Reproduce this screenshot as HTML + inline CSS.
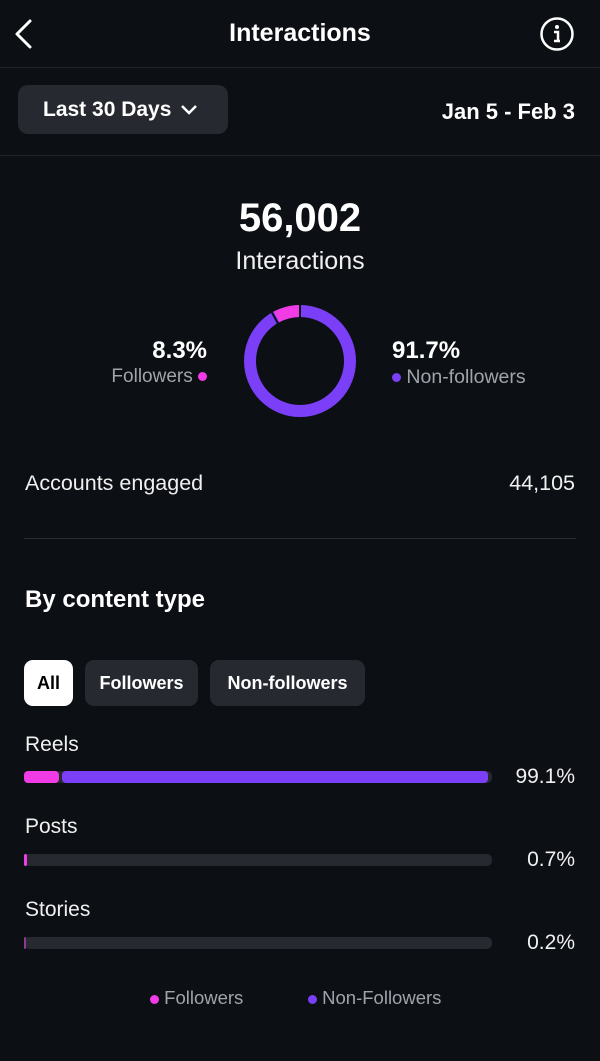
<!DOCTYPE html>
<html><head><meta charset="utf-8"><style>
*{margin:0;padding:0;box-sizing:border-box}
body{width:600px;height:1061px;background:#0c0f14;color:#fff;font-family:"Liberation Sans",sans-serif;position:relative;overflow:hidden}
.a{position:absolute;white-space:nowrap}
.line{position:absolute;left:0;width:600px;height:1px;background:#22262c}
.pill{position:absolute;top:660px;height:46px;border-radius:9px;background:#262a30;font-weight:bold;font-size:18px;line-height:46px;text-align:center}
.track{position:absolute;left:24px;width:468px;height:12px;border-radius:5px;background:#262a30}
.seg{position:absolute;top:0;height:12px;border-radius:4px}
.pk{background:#f13ce6}.pu{background:#7a3ff7}
.pct{position:absolute;right:25px;font-size:21px;color:#f0f0f0}
.lbl{position:absolute;left:25px;font-size:21px;color:#f0f0f0}
.dot{display:inline-block;width:9px;height:9px;border-radius:50%;vertical-align:middle}
</style></head><body>
<svg class="a" style="left:12px;top:18px" width="24" height="32"><polyline points="18,3 5,16 18,29" fill="none" stroke="#fff" stroke-width="3" stroke-linecap="round" stroke-linejoin="round"/></svg>
<div class="a" style="left:0;width:600px;top:19px;text-align:center;font-size:25px;font-weight:bold">Interactions</div>
<svg class="a" style="left:539px;top:16px" width="36" height="36"><circle cx="18" cy="18" r="15.5" fill="none" stroke="#fff" stroke-width="2.5"/><circle cx="18" cy="11" r="2" fill="#fff"/><path d="M15 16h4v9M15 25h6" stroke="#fff" stroke-width="2.5" fill="none"/></svg>
<div class="line" style="top:67px"></div>
<div class="a" style="left:18px;top:85px;width:210px;height:49px;border-radius:10px;background:#262a30;font-size:21px;font-weight:bold;line-height:49px;padding-left:25px">Last 30 Days <svg width="18" height="12" style="vertical-align:middle;margin-left:3px"><polyline points="2,2 9,9 16,2" fill="none" stroke="#fff" stroke-width="2.5"/></svg></div>
<div class="a" style="right:25px;top:99px;font-size:22px;font-weight:bold">Jan 5 - Feb 3</div>
<div class="line" style="top:155px"></div>
<div class="a" style="left:0;width:600px;top:196px;text-align:center;font-size:40px;font-weight:bold">56,002</div>
<div class="a" style="left:0;width:600px;top:247px;text-align:center;font-size:25px;color:#f0f0f0">Interactions</div>
<svg class="a" style="left:240px;top:301px" width="120" height="120">
<circle cx="60" cy="60" r="50" fill="none" stroke="#7a3ff7" stroke-width="12"/>
<circle cx="60" cy="60" r="50" fill="none" stroke="#f13ce6" stroke-width="12" stroke-dasharray="24 290.16" transform="rotate(-118 60 60)"/>
<line x1="60" y1="4" x2="60" y2="17" stroke="#0c0f14" stroke-width="2"/>
<line x1="32" y1="11.5" x2="38" y2="22.5" stroke="#0c0f14" stroke-width="2"/>
</svg>
<div class="a" style="right:393px;top:337px;font-size:24px;font-weight:bold">8.3%</div>
<div class="a" style="right:393px;top:366px;font-size:19px;color:#a0a4ab">Followers <span class="dot" style="background:#f13ce6"></span></div>
<div class="a" style="left:392px;top:337px;font-size:24px;font-weight:bold">91.7%</div>
<div class="a" style="left:392px;top:366px;font-size:19.5px;color:#a0a4ab"><span class="dot" style="background:#7a3ff7"></span> Non-followers</div>
<div class="a" style="left:25px;top:471px;font-size:21.5px;color:#f0f0f0">Accounts engaged</div>
<div class="a" style="right:25px;top:471px;font-size:21.5px;color:#f0f0f0">44,105</div>
<div class="a" style="left:24px;top:538px;width:552px;height:1px;background:#2a2e34"></div>
<div class="a" style="left:25px;top:586px;font-size:24px;font-weight:bold">By content type</div>
<div class="pill" style="left:24px;width:49px;background:#fff;color:#000">All</div>
<div class="pill" style="left:85px;width:113px">Followers</div>
<div class="pill" style="left:210px;width:155px">Non-followers</div>
<div class="lbl" style="top:733px">Reels</div>
<div class="track" style="top:771px"><div class="seg pk" style="left:0;width:35px"></div><div class="seg pu" style="left:38px;width:426px"></div></div>
<div class="pct" style="top:765px">99.1%</div>
<div class="lbl" style="top:815px">Posts</div>
<div class="track" style="top:854px"><div class="seg pk" style="left:0;width:3px"></div></div>
<div class="pct" style="top:848px">0.7%</div>
<div class="lbl" style="top:898px">Stories</div>
<div class="track" style="top:937px"><div class="seg" style="left:0;width:2px;background:#8a3a90"></div></div>
<div class="pct" style="top:931px">0.2%</div>
<div class="a" style="left:150px;top:987px;font-size:18.5px;color:#a0a4ab"><span class="dot" style="background:#f13ce6"></span> Followers</div>
<div class="a" style="left:308px;top:987px;font-size:18.5px;color:#a0a4ab"><span class="dot" style="background:#7a3ff7"></span> Non-Followers</div>
</body></html>
